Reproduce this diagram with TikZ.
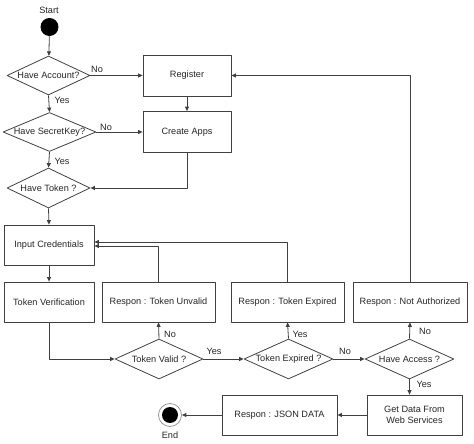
\documentclass[tikz,border=0pt]{standalone}
\usepackage{fontspec}
\setmainfont{Liberation Sans}
\usetikzlibrary{arrows.meta,positioning,shapes.geometric}

\begin{document}
\begin{tikzpicture}[>={Triangle[length=4.5pt,width=4pt]},line join=bevel,
  every node/.style={font=\fontsize{9.2}{10.5}\selectfont,text=black!85},
  box/.style={draw=black!75,line width=0.8pt,rectangle,inner sep=0pt,minimum height=40bp},
  dia/.style={draw=black!75,line width=0.8pt,diamond,inner sep=0pt,minimum height=40bp},
  flow/.style={->,draw=black!75,line width=0.8pt}]
%
  \useasboundingbox (0bp,0bp) rectangle (474bp,444bp);
  \node (st) at (49.5bp,417bp) [circle,fill=black,inner sep=0pt,minimum size=18bp] {};
  \node (stl) at (49bp,434bp) {Start};
  \node (acc) at (48.5bp,368.5bp) [dia,minimum width=83bp,minimum height=39bp] {\makebox[0pt]{Have Account?}};
  \node (reg) at (187bp,368.5bp) [box,minimum width=88bp,minimum height=41bp] {Register};
  \node (key) at (49.5bp,312bp) [dia,minimum width=93bp,minimum height=39bp] {\makebox[0pt]{Have SecretKey?}};
  \node (app) at (187bp,312bp) [box,minimum width=88bp,minimum height=41bp] {Create Apps};
  \node (tok) at (48.5bp,256bp) [dia,minimum width=83bp] {\makebox[0pt]{Have Token ?}};
  \node (inp) at (49bp,199bp) [box,minimum width=90bp] {\makebox[0pt]{Input Credentials}};
  \node (ver) at (49bp,142bp) [box,minimum width=90bp] {\makebox[0pt]{Token Verification}};
  \node (unv) at (158.5bp,142bp) [box,minimum width=113bp] {\makebox[0pt]{Respon : Token Unvalid}};
  \node (exp) at (287.5bp,142bp) [box,minimum width=113bp] {\makebox[0pt]{Respon : Token Expired}};
  \node (nau) at (410bp,142bp) [box,minimum width=114bp] {\makebox[0pt]{Respon : Not Authorized}};
  \node (val) at (159bp,85bp) [dia,minimum width=88bp] {\makebox[0pt]{Token Valid ?}};
  \node (tex) at (288.5bp,85bp) [dia,minimum width=89bp] {\makebox[0pt]{Token Expired ?}};
  \node (acs) at (409.5bp,85bp) [dia,minimum width=89bp] {\makebox[0pt]{Have Access ?}};
  \node (dat) at (414.5bp,29bp) [box,minimum width=95bp,align=center] {Get Data From\\Web Services};
  \node (jsn) at (279.5bp,29bp) [box,minimum width=115bp] {\makebox[0pt]{Respon : JSON DATA}};
  \node (en) at (170bp,29bp) [circle,draw=black!40,line width=0.8pt,inner sep=0pt,minimum size=23bp] {};
  \node (enf) at (170bp,29bp) [circle,fill=black,inner sep=0pt,minimum size=16bp] {};
  \node (enl) at (170bp,9bp) {End};
  \draw [flow] (st) -- (acc);
  \draw [flow] (acc.east) -- (reg.west);
  \node (no1) at (97bp,375bp) {No};
  \draw [flow] (acc.south) -- (key.north);
  \node (ye1) at (62bp,344bp) {Yes};
  \draw [flow] (reg.south) -- (app.north);
  \draw [flow] (key.east) -- (app.west);
  \node (no2) at (106bp,317bp) {No};
  \draw [flow] (key.south) -- (tok.north);
  \node (ye2) at (62bp,283bp) {Yes};
  \draw [flow] (app.south) |- (tok.east);
  \draw [flow] (tok.south) -- (inp.north);
  \draw [flow] (inp.south) -- (ver.north);
  \draw [flow] (ver.south) |- (val.west);
  \draw [flow] (val.north) -- (unv.south);
  \node (no3) at (170bp,110bp) {No};
  \draw [flow] (val.east) -- (tex.west);
  \node (ye3) at (214bp,93bp) {Yes};
  \draw [flow] (tex.north) -- (exp.south);
  \node (ye4) at (300bp,110bp) {Yes};
  \draw [flow] (tex.east) -- (acs.west);
  \node (no4) at (345bp,93bp) {No};
  \draw [flow] (acs.north) -- (nau.south);
  \node (no5) at (425bp,113bp) {No};
  \draw [flow] (acs.south) -- (acs.south |- dat.north);
  \node (ye5) at (424bp,60bp) {Yes};
  \draw [flow] (dat.west) -- (jsn.east);
  \draw [flow] (jsn.west) -- (en.east);
  \draw [flow] (unv.north) |- ([yshift=-1bp]inp.east);
  \draw [flow] (exp.north) |- ([yshift=3bp]inp.east);
  \draw [flow] (nau.north) |- (reg.east);
%
\end{tikzpicture}
\end{document}
